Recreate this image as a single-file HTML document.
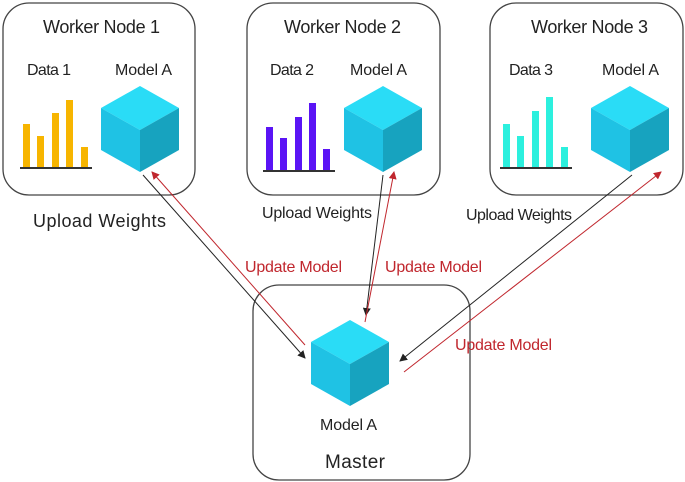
<!DOCTYPE html>
<html><head><style>
body{margin:0;background:#fff;}
svg{display:block;font-family:"Liberation Sans",Arial,sans-serif;}
</style></head><body>
<svg width="685" height="482" viewBox="0 0 685 482">
<defs>
<marker id="ab" markerWidth="8" markerHeight="8" refX="7" refY="4" orient="auto" markerUnits="userSpaceOnUse"><path d="M0,0 L8,4 L0,8 Z" fill="#222"/></marker>
<marker id="ar" markerWidth="8" markerHeight="8" refX="7" refY="4" orient="auto" markerUnits="userSpaceOnUse"><path d="M0,0 L8,4 L0,8 Z" fill="#c0262d"/></marker>
<g id="cube">
<polygon points="0,-42 39,-20 0,2 -39,-20" fill="#2adcf6"/>
<polygon points="-39,-20 0,2 0,44 -39,22" fill="#1fc2e4"/>
<polygon points="39,-20 0,2 0,44 39,22" fill="#17a3bf"/>
</g>
</defs>
<g fill="none" stroke="#444" stroke-width="1.3">
<rect x="3" y="3" width="192" height="192" rx="26"/>
<rect x="247" y="3" width="193" height="192" rx="26"/>
<rect x="490" y="3" width="193" height="192" rx="26"/>
<rect x="253" y="285" width="217" height="195" rx="26"/>
</g>
<g font-size="18" fill="#222">
<text x="43" y="33" textLength="117">Worker Node 1</text>
<text x="284" y="33" textLength="117">Worker Node 2</text>
<text x="531" y="33" textLength="117">Worker Node 3</text>
<text x="325" y="468" textLength="60" font-size="19">Master</text>
</g>
<g font-size="16" fill="#222">
<text x="27" y="75" textLength="44">Data 1</text><text x="115" y="75" textLength="57">Model A</text>
<text x="270" y="75" textLength="44">Data 2</text><text x="350" y="75" textLength="57">Model A</text>
<text x="509" y="75" textLength="44">Data 3</text><text x="602" y="75" textLength="57">Model A</text>
<text x="320" y="430" textLength="57">Model A</text>
</g>
<g fill="#f7b500">
<rect x="23" y="124" width="7" height="44"/><rect x="37" y="136" width="7" height="32"/><rect x="52" y="113" width="7" height="55"/><rect x="66" y="100" width="7" height="68"/><rect x="81" y="147" width="7" height="21"/>
</g>
<rect x="20" y="167" width="72" height="2" fill="#333"/>
<g fill="#5a14f5">
<rect x="266" y="127" width="7" height="44"/><rect x="280" y="138" width="7" height="33"/><rect x="295" y="117" width="7" height="54"/><rect x="309" y="103" width="7" height="68"/><rect x="323" y="149" width="7" height="22"/>
</g>
<rect x="263" y="170" width="72" height="2" fill="#333"/>
<g fill="#2cf0de">
<rect x="503" y="124" width="7" height="44"/><rect x="517" y="136" width="7" height="32"/><rect x="532" y="111" width="7" height="57"/><rect x="546" y="97" width="7" height="71"/><rect x="561" y="147" width="7" height="21"/>
</g>
<rect x="500" y="167" width="72" height="2" fill="#333"/>
<use href="#cube" x="140" y="128"/>
<use href="#cube" x="383" y="128"/>
<use href="#cube" x="630" y="128"/>
<use href="#cube" x="350" y="362"/>
<g stroke-width="1">
<line x1="143" y1="175" x2="305" y2="358" stroke="#222" marker-end="url(#ab)"/>
<line x1="305" y1="345" x2="152" y2="172" stroke="#c0262d" marker-end="url(#ar)"/>
<line x1="383" y1="175" x2="366" y2="315" stroke="#222" marker-end="url(#ab)"/>
<line x1="365" y1="322" x2="394" y2="172" stroke="#c0262d" marker-end="url(#ar)"/>
<line x1="632" y1="175" x2="400" y2="361" stroke="#222" marker-end="url(#ab)"/>
<line x1="404" y1="372" x2="661" y2="172" stroke="#c0262d" marker-end="url(#ar)"/>
</g>
<g font-size="16" fill="#222">
<text x="33" y="227" textLength="133" font-size="18">Upload Weights</text>
<text x="262" y="218" textLength="110">Upload Weights</text>
<text x="466" y="220" textLength="106">Upload Weights</text>
</g>
<g font-size="16" fill="#c0262d">
<text x="245" y="272" textLength="97">Update Model</text>
<text x="385" y="272" textLength="97">Update Model</text>
<text x="455" y="350" textLength="97">Update Model</text>
</g>
</svg>
</body></html>
